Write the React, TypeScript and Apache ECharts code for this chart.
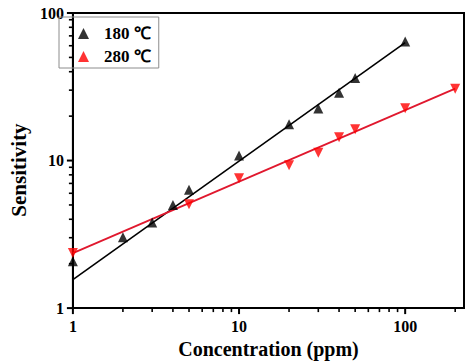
import React, { useEffect, useRef } from "react";
import * as echarts from "echarts";

// Data (raw, not log-transformed)
const conc180 = [1, 2, 3, 4, 5, 10, 20, 30, 40, 50, 100];
const sens180 = [2.08, 3.02, 3.8, 5.0, 6.35, 10.8, 17.6, 22.5, 28.8, 36.3, 64];
const conc280 = [1, 5, 10, 20, 30, 40, 50, 100, 200];
const sens280 = [2.36, 5.05, 7.6, 9.3, 11.3, 14.4, 16.3, 22.6, 30.7];

// Linear fits (in log-log space), end points
const fit180X = [1, 100];
const fit180Y = [1.56, 63];
const fit280X = [1, 200];
const fit280Y = [2.36, 30.7];

// Axis ranges and ticks
const xRange = [1, 226];
const yRange = [1, 100];
const xMajorTicks = [1, 10, 100];
const xMinorTicks = [2, 3, 4, 5, 6, 7, 8, 9, 20, 30, 40, 50, 60, 70, 80, 90, 200];
const yMajorTicks = [1, 10, 100];
const yMinorTicks = [2, 3, 4, 5, 6, 7, 8, 9, 20, 30, 40, 50, 60, 70, 80, 90];

const seriesNames = ["180 ℃", "280 ℃"];

const lg = (v: number) => Math.log10(v);
const FONT = "'Liberation Serif', 'Times New Roman', serif";

export default function App() {
  const ref = useRef<HTMLDivElement>(null);
  useEffect(() => {
    if (!ref.current) return;
    const chart = echarts.init(ref.current, null, { renderer: "svg" });
    const labelFmt = (v: number) => String(Math.round(Math.pow(10, v)));
    const xMin = lg(xRange[0]);
    const yMin = lg(yRange[0]);

    const tickSeries = (values: number[], dir: "x" | "y", len: number, width: number) => ({
      type: "custom",
      coordinateSystem: "cartesian2d",
      xAxisIndex: 0,
      yAxisIndex: 0,
      silent: true,
      clip: false,
      z: 10,
      encode: { x: 0, y: 1 },
      data: values.map((v) => (dir === "x" ? [lg(v), yMin] : [xMin, lg(v)])),
      renderItem: (_params: any, api: any) => {
        const p = api.coord([api.value(0), api.value(1)]);
        const shape =
          dir === "x"
            ? { x1: p[0], y1: p[1], x2: p[0], y2: p[1] + len }
            : { x1: p[0], y1: p[1], x2: p[0] - len, y2: p[1] };
        return { type: "line", shape, style: { stroke: "#000", lineWidth: width } };
      },
    });

    chart.setOption({
      animation: false,
      grid: {
        left: 56,
        right: 10,
        top: 13,
        bottom: 50,
        show: true,
        borderColor: "#000",
        borderWidth: 2,
        backgroundColor: "transparent",
      },
      legend: {
        show: true,
        data: seriesNames,
        orient: "vertical",
        left: 59,
        top: 17,
        padding: [8, 8, 3, 19],
        itemGap: 6,
        itemWidth: 11,
        itemHeight: 11,
        borderColor: "#8c8c8c",
        borderWidth: 1,
        borderRadius: 0,
        textStyle: {
          fontFamily: FONT,
          fontWeight: "bold",
          fontSize: 17,
          lineHeight: 14,
          color: "#000",
          padding: [0, 0, 0, 10],
        },
      },
      xAxis: {
        type: "value",
        min: xMin,
        max: lg(xRange[1]),
        position: "bottom",
        splitLine: { show: false },
        name: "Concentration (ppm)",
        nameLocation: "middle",
        nameGap: 18,
        nameTextStyle: { fontFamily: FONT, fontWeight: "bold", fontSize: 20, color: "#000" },
        axisLine: { show: true, onZero: false, lineStyle: { color: "#000", width: 2 } },
        axisTick: { show: false },
        axisLabel: {
          show: true,
          customValues: xMajorTicks.map(lg),
          formatter: labelFmt,
          margin: 10,
          fontFamily: FONT,
          fontWeight: "bold",
          fontSize: 16,
          color: "#000",
        },
      },
      yAxis: {
        type: "value",
        min: yMin,
        max: lg(yRange[1]),
        position: "left",
        splitLine: { show: false },
        name: "Sensitivity",
        nameLocation: "middle",
        nameGap: 28,
        nameTextStyle: {
          fontFamily: FONT,
          fontWeight: "bold",
          fontSize: 21,
          color: "#000",
          padding: [0, 19, 0, 0],
        },
        axisLine: { show: true, onZero: false, lineStyle: { color: "#000", width: 2 } },
        axisTick: { show: false },
        axisLabel: {
          show: true,
          customValues: yMajorTicks.map(lg),
          formatter: labelFmt,
          margin: 9,
          fontFamily: FONT,
          fontWeight: "bold",
          fontSize: 16,
          color: "#000",
        },
      },
      series: [
        tickSeries(xMajorTicks, "x", 6, 2),
        tickSeries(xMinorTicks, "x", 4, 1.6),
        tickSeries(yMajorTicks, "y", 6, 2),
        tickSeries(yMinorTicks, "y", 4, 1.6),
        {
          name: "fit180",
          type: "line",
          data: fit180X.map((x, i) => [lg(x), lg(fit180Y[i])]),
          symbol: "none",
          lineStyle: { color: "#000", width: 1.6 },
          z: 2,
          silent: true,
        },
        {
          name: "fit280",
          type: "line",
          data: fit280X.map((x, i) => [lg(x), lg(fit280Y[i])]),
          symbol: "none",
          lineStyle: { color: "#e0182e", width: 1.8 },
          z: 2,
          silent: true,
        },
        {
          name: seriesNames[0],
          type: "scatter",
          data: conc180.map((c, i) => [lg(c), lg(sens180[i])]),
          symbol: "triangle",
          symbolSize: 10,
          itemStyle: { color: "#000" },
          z: 3,
        },
        {
          name: seriesNames[1],
          type: "scatter",
          data: conc280.map((c, i) => [lg(c), lg(sens280[i])]),
          symbol: "triangle",
          symbolRotate: 180,
          symbolSize: 10,
          itemStyle: { color: "#ff0000" },
          z: 3,
        },
      ],
    });
    return () => chart.dispose();
  }, []);
  return (
    <div
      ref={ref}
      style={{ position: "fixed", left: 0, top: 0, width: 474, height: 364, background: "#fff" }}
    />
  );
}
